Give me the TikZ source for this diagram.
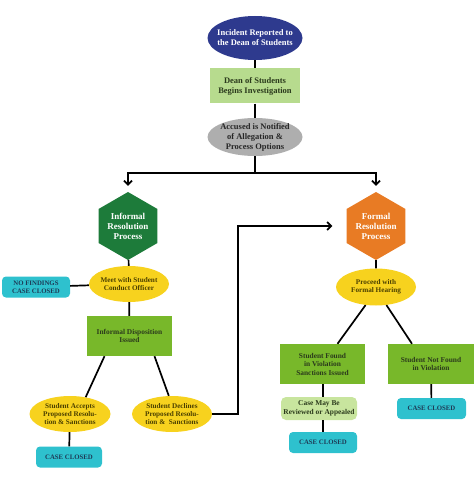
\documentclass[tikz,border=0pt]{standalone}
\usepackage{fontspec}
\setmainfont{Liberation Serif}
\usetikzlibrary{shapes.geometric,arrows.meta}
\definecolor{deanblue}{HTML}{2E3A8E}
\definecolor{palegreen}{HTML}{B7DB8E}
\definecolor{notegray}{HTML}{AEAEAE}
\definecolor{hexgreen}{HTML}{1D7B3A}
\definecolor{hexorange}{HTML}{E87B24}
\definecolor{ovalyellow}{HTML}{F7D21E}
\definecolor{boxgreen}{HTML}{78B82A}
\definecolor{closedcyan}{HTML}{2EC1CE}
\definecolor{reviewgreen}{HTML}{C8E59E}
\definecolor{darkink}{HTML}{2B3A1C}
\definecolor{oliveink}{HTML}{4B4000}
\definecolor{cyanink}{HTML}{1E3A56}
\newcommand{\flowfont}[2]{\fontsize{#1}{#2}\selectfont\bfseries}
\begin{document}
\begin{tikzpicture}[x=1pt, y=-1pt,
    every node/.style={align=center, inner sep=0pt},
    oval/.style={ellipse, inner xsep=-6pt, inner ysep=-3pt, minimum width=#1},
    hexa/.style={regular polygon, regular polygon sides=6, shape border rotate=90,
        minimum size=68pt, text=white, font=\flowfont{9}{10}},
    stepbox/.style={rectangle, fill=boxgreen, text=darkink, minimum width=#1,
        minimum height=40pt, font=\flowfont{7.4}{8.5}},
    closed/.style={rectangle, rounded corners=4pt, fill=closedcyan, text=cyanink,
        minimum width=#1, minimum height=21pt, font=\flowfont{6.8}{8}},
    yellowoval/.style={oval=#1, fill=ovalyellow, text=oliveink,
        minimum height=36pt, font=\flowfont{7.2}{8.2}},
    flow/.style={line width=1.7pt, black},
    arrow/.style={flow, -{Straight Barb[length=4pt, width=8pt]}}]
    \useasboundingbox (0,0) rectangle (474,484);
    % top of the chart
    \node[oval=95pt, minimum height=44pt, fill=deanblue, text=white, font=\flowfont{8.5}{10}]
        (incident) at (255,38) {Incident Reported to\\the Dean of Students};
    \node[rectangle, fill=palegreen, text=darkink, minimum width=90pt, minimum height=35pt,
        font=\flowfont{8.5}{10}] (dean) at (255,86) {Dean of Students\\Begins Investigation};
    \node[oval=95pt, minimum height=38pt, fill=notegray, text=black!85, font=\flowfont{8.5}{10}]
        (accused) at (255,137) {Accused is Notified\\of Allegation \&\\Process Options};
    \coordinate (split) at (255,173);
    % informal branch
    \node[hexa, fill=hexgreen] (informal) at (128,226) {Informal\\Resolution\\Process};
    \node[yellowoval=80pt] (meet) at (129,284) {Meet with Student\\Conduct Officer};
    \node[closed=68pt] (nofind) at (36,287) {NO FINDINGS\\CASE CLOSED};
    \node[stepbox=85pt] (disposition) at (129.5,336) {Informal Disposition\\Issued};
    \node[yellowoval=81pt] (accepts) at (70,414) {Student Accepts\\Proposed Resolu-\\tion \& Sanctions};
    \node[yellowoval=80pt] (declines) at (172,414) {Student Declines\\Proposed Resolu-\\tion \&\ \ Sanctions};
    \node[closed=66pt] (closedA) at (69,457) {CASE CLOSED};
    \coordinate (detour) at (238,226);
    % formal branch
    \node[hexa, fill=hexorange] (formal) at (376,226) {Formal\\Resolution\\Process};
    \node[yellowoval=80pt, minimum height=37pt] (proceed) at (376,287) {Proceed with\\Formal Hearing};
    \node[stepbox=85pt] (found) at (322.5,364) {Student Found\\in Violation\\Sanctions Issued};
    \node[stepbox=86pt] (notfound) at (431,364) {Student Not Found\\in Violation};
    \node[rectangle, rounded corners=5pt, fill=reviewgreen, text=darkink, minimum width=76pt,
        minimum height=23pt, font=\flowfont{7.4}{8.5}] (review) at (319,408.5)
        {Case May Be\\Reviewed or Appealed};
    \node[closed=68pt] (closedB) at (323,442.5) {CASE CLOSED};
    \node[closed=69pt] (closedC) at (431.5,408.5) {CASE CLOSED};
    % connectors
    \draw[flow] (incident) -- (dean);
    \draw[flow] (dean) -- (accused);
    \draw[flow] (accused) -- (split);
    \draw[arrow, shorten >=6pt] (split) -| (informal.north);
    \draw[arrow, shorten >=6pt] (split) -| (formal.north);
    \draw[flow] (informal) -- (meet);
    \draw[flow] (meet) -- (nofind);
    \draw[flow] (meet) -- (disposition);
    \draw[flow] ([xshift=-25pt]disposition.south) -- (accepts.47);
    \draw[flow] ([xshift=25pt]disposition.south) -- (declines.100);
    \draw[flow] (accepts) -- (closedA);
    \draw[arrow, shorten >=14pt] (declines.east) -| (detour) -- (formal);
    \draw[flow] (formal) -- (proceed);
    \draw[flow] (proceed.240) -- ([xshift=15pt]found.north);
    \draw[flow] (proceed.300) -- ([xshift=-19pt]notfound.north);
    \draw[flow] ([xshift=0.5pt]found.south) -- ([xshift=4pt]review.north);
    \draw[flow] ([xshift=4pt]review.south) -- (closedB);
    \draw[flow] (notfound) -- (closedC);
\end{tikzpicture}
\end{document}
